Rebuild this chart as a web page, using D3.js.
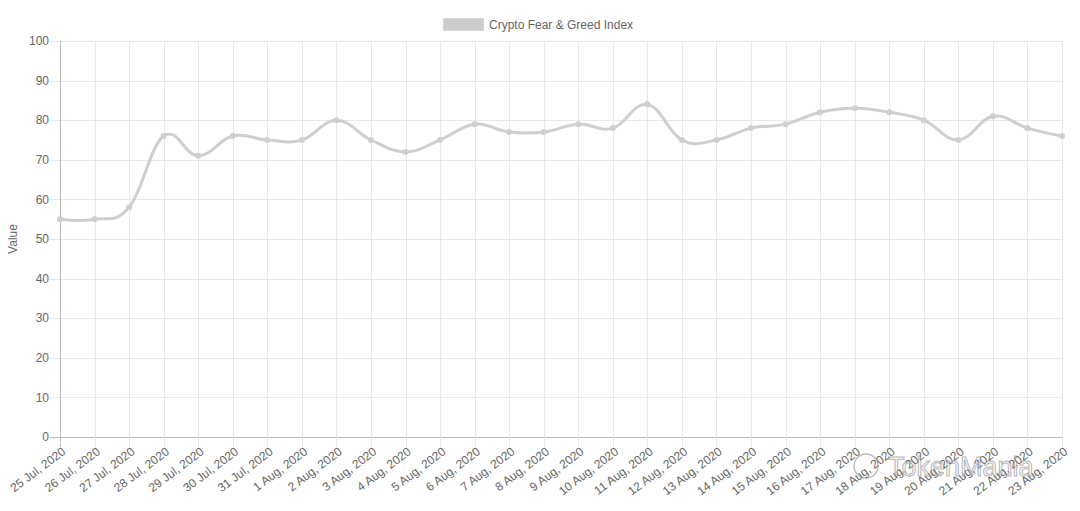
<!DOCTYPE html>
<html>
<head>
<meta charset="utf-8">
<script src="https://cdn.jsdelivr.net/npm/d3@7"></script>
<style>
	body { margin: 0; background: #fff; }
	text { font-family: "Liberation Sans", Arial, sans-serif; }
</style>
</head>
<body>
<svg width="1080" height="511"></svg>
<script>
// data
var labels = ["25 Jul, 2020", "26 Jul, 2020", "27 Jul, 2020", "28 Jul, 2020", "29 Jul, 2020",
	"30 Jul, 2020", "31 Jul, 2020", "1 Aug, 2020", "2 Aug, 2020", "3 Aug, 2020",
	"4 Aug, 2020", "5 Aug, 2020", "6 Aug, 2020", "7 Aug, 2020", "8 Aug, 2020",
	"9 Aug, 2020", "10 Aug, 2020", "11 Aug, 2020", "12 Aug, 2020", "13 Aug, 2020",
	"14 Aug, 2020", "15 Aug, 2020", "16 Aug, 2020", "17 Aug, 2020", "18 Aug, 2020",
	"19 Aug, 2020", "20 Aug, 2020", "21 Aug, 2020", "22 Aug, 2020", "23 Aug, 2020"];
var values = [55, 55, 58, 76, 71, 76, 75, 75, 80, 75,
	72, 75, 79, 77, 77, 79, 78, 84, 75, 75,
	78, 79, 82, 83, 82, 80, 75, 81, 78, 76];
var yTicks = [0, 10, 20, 30, 40, 50, 60, 70, 80, 90, 100];
var seriesName = "Crypto Fear & Greed Index";

var svg = d3.select("svg"),
	plotLeft = 60, plotRight = 1062, plotTop = 41, plotBottom = 437,
	lineColor = "#cfcfcf",
	gridColor = "#e8e8e8",
	textColor = "#666";

var x = d3.scalePoint().domain(labels).range([plotLeft, plotRight]);
var y = d3.scaleLinear().domain([0, 100]).range([plotBottom, plotTop]);

// horizontal grid + ticks
svg.append("g")
	.selectAll("line")
	.data(yTicks)
	.enter()
	.append("line")
	.attr("x1", plotLeft - 10)
	.attr("x2", plotRight)
	.attr("y1", function (d) { return Math.round(y(d)) + 0.5; })
	.attr("y2", function (d) { return Math.round(y(d)) + 0.5; })
	.attr("stroke", function (d) { return d === 0 ? "#bbb" : gridColor; });

svg.append("g")
	.selectAll("text")
	.data(yTicks)
	.enter()
	.append("text")
	.attr("x", plotLeft - 11)
	.attr("y", function (d) { return y(d); })
	.attr("dy", "0.35em")
	.attr("text-anchor", "end")
	.attr("font-size", 12)
	.attr("fill", textColor)
	.text(function (d) { return d; });

// vertical grid + ticks
svg.append("g")
	.selectAll("line")
	.data(labels)
	.enter()
	.append("line")
	.attr("x1", function (d) { return Math.round(x(d)) + 0.5; })
	.attr("x2", function (d) { return Math.round(x(d)) + 0.5; })
	.attr("y1", plotTop)
	.attr("y2", plotBottom + 10)
	.attr("stroke", function (d, i) { return i === 0 ? "#bbb" : gridColor; });

svg.append("g")
	.selectAll("text")
	.data(labels)
	.enter()
	.append("text")
	.attr("transform", function (d) { return "translate(" + (x(d) + 1) + "," + (plotBottom + 9) + ") rotate(-37)"; })
	.attr("text-anchor", "end")
	.attr("dy", "0.75em")
	.attr("font-size", 12)
	.attr("fill", textColor)
	.text(function (d) { return d; });

// axis title
svg.append("text")
	.attr("transform", "translate(17," + ((plotTop + plotBottom) / 2) + ") rotate(-90)")
	.attr("text-anchor", "middle")
	.attr("font-size", 12)
	.attr("fill", textColor)
	.text("Value");

// line
var line = d3.line()
	.x(function (d, i) { return x(labels[i]); })
	.y(function (d) { return y(d); })
	.curve(d3.curveCardinal.tension(-0.2));

svg.append("path")
	.datum(values)
	.attr("d", line)
	.attr("fill", "none")
	.attr("stroke", lineColor)
	.attr("stroke-width", 3);

svg.append("g")
	.selectAll("circle")
	.data(values)
	.enter()
	.append("circle")
	.attr("cx", function (d, i) { return x(labels[i]); })
	.attr("cy", function (d) { return y(d); })
	.attr("r", 3)
	.attr("fill", lineColor);

// legend
svg.append("rect")
	.attr("x", 443.5).attr("y", 18.5)
	.attr("width", 40).attr("height", 12)
	.attr("fill", "#cccccc")
	.attr("stroke", "#d6d6d6");

svg.append("text")
	.attr("x", 489)
	.attr("y", 24.5)
	.attr("dy", "0.35em")
	.attr("font-size", 12)
	.attr("fill", textColor)
	.text(seriesName);

// watermark
var wm = svg.append("g").attr("opacity", 0.55);
wm.append("circle")
	.attr("cx", 866).attr("cy", 466).attr("r", 12)
	.attr("fill", "none").attr("stroke", "#888").attr("stroke-width", 1.5);
wm.append("text")
	.attr("x", 888)
	.attr("y", 476)
	.attr("font-size", 27)
	.attr("fill", "#fff")
	.attr("stroke", "#777")
	.attr("stroke-width", 1)
	.text("TokenMania");
</script>
</body>
</html>
